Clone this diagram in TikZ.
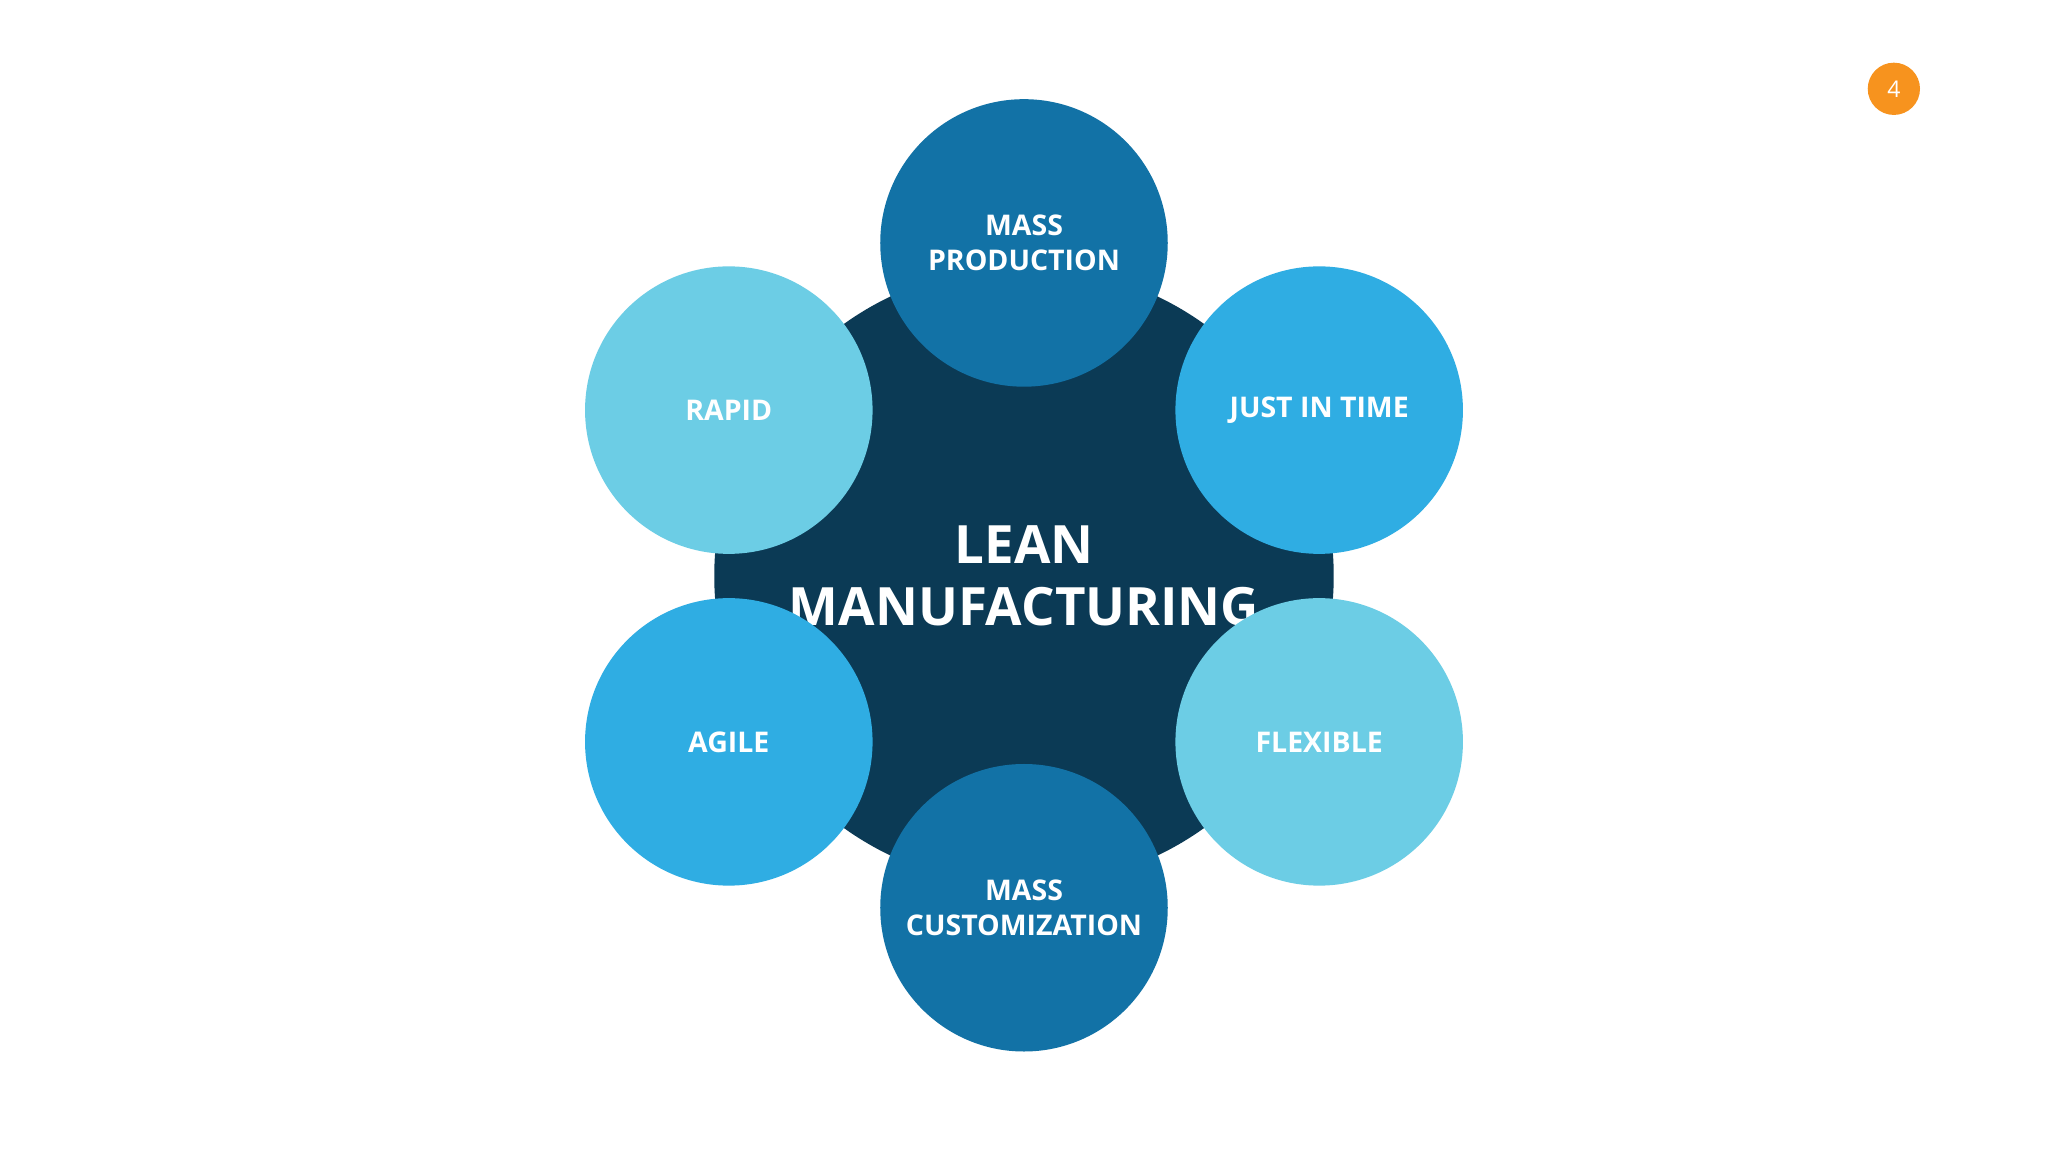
\documentclass[tikz,border=0pt]{standalone}
\usepackage{fontspec}
\setmainfont{Open Sans}
\definecolor{cdark}{HTML}{0B3A55}
\definecolor{cmid}{HTML}{1272A6}
\definecolor{cbright}{HTML}{2FADE3}
\definecolor{clight}{HTML}{6CCDE5}
\definecolor{corange}{HTML}{F7931E}
\begin{document}
\begin{tikzpicture}[x=0.01cm,y=-0.01cm,
  sat/.style={circle,minimum size=2.2cm,inner sep=0pt,text=white,align=center,font=\bfseries\fontsize{6.2}{7.7}\selectfont}]
\useasboundingbox (0,0) rectangle (1568,882);
\fill[white] (0,0) rectangle (1568,882);
\node[circle,fill=cdark,minimum size=4.74cm,inner sep=0pt,text=white,align=center,font=\bfseries\fontsize{11.5}{13.4}\selectfont] (c) at (784,441) {LEAN\\MANUFACTURING};
\node[sat,fill=cmid] (mp) at (784,186) {MASS\\PRODUCTION};
\node[sat,fill=cbright] (jit) at (1010,314) {JUST IN TIME};
\node[sat,fill=clight] (fl) at (1010,568) {FLEXIBLE};
\node[sat,fill=cmid] (mc) at (784,695) {MASS\\CUSTOMIZATION};
\node[sat,fill=cbright] (ag) at (558,568) {AGILE};
\node[sat,fill=clight] (ra) at (558,314) {RAPID};
\node[circle,fill=corange,minimum size=0.4cm,inner sep=0pt,text=white,font=\fontsize{5}{6}\selectfont] (pg) at (1450,68) {4};
\end{tikzpicture}
\end{document}
